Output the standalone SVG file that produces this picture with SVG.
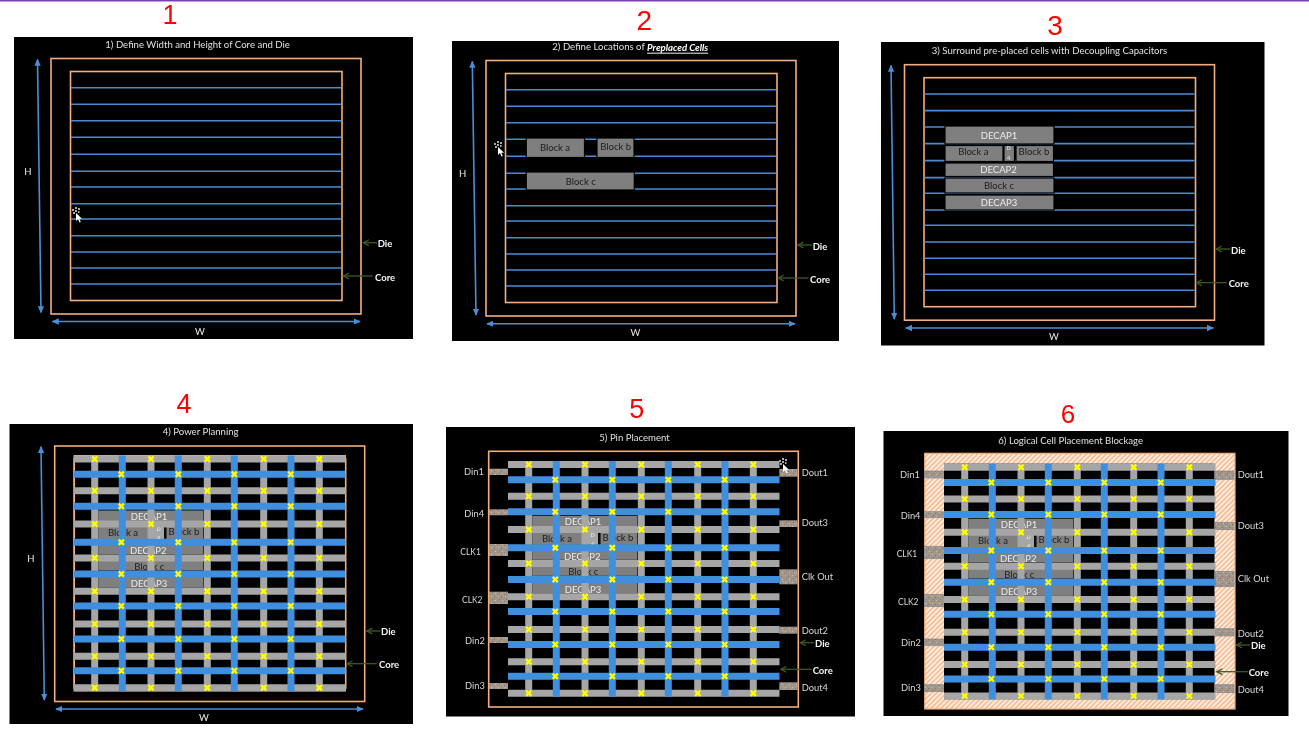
<svg xmlns="http://www.w3.org/2000/svg" width="1309" height="729" viewBox="0 0 1309 729">
<style>
text{font-family:Lato,"Liberation Sans",sans-serif;dominant-baseline:central}
.num{font-family:"Liberation Sans",sans-serif;fill:#ff0000;text-anchor:middle}
.ttl{font-size:9.6px;fill:#e0e0e0}
.lb{font-size:9.5px;fill:#e8e8e8}
.st{font-size:9.5px;fill:#f4f4f4;font-weight:700}
.dk{font-size:9.5px;fill:#1c1c1c;text-anchor:middle}
.lt{font-size:9.5px;fill:#ececec;text-anchor:middle}
.tiny{font-size:5.5px;fill:#ececec;text-anchor:middle}
.pin{font-size:9.3px;fill:#d8d8d8}
.bk{fill:#000}
.die{fill:none;stroke:#f2ae7c;stroke-width:1.6}
.blk{fill:#7f7f7f;stroke:#000;stroke-width:1.2}
.dim{stroke:#4a8fd8;stroke-width:1.6;fill:none;marker-start:url(#bl);marker-end:url(#bl)}
.ptr{stroke:#3c5a26;stroke-width:1.3;fill:none;marker-end:url(#gr)}
.tex{fill:url(#tex)}
.tx6{fill:url(#tex);stroke:#7d8896;stroke-width:.7}
</style>
<defs>
<filter id="soft" x="0" y="0" width="100%" height="100%"><feGaussianBlur stdDeviation="0.35"/></filter>
<marker id="bl" viewBox="0 0 8 8" refX="7" refY="4" markerWidth="4.500" markerHeight="4.500" orient="auto-start-reverse"><path d="M0 .5L8 4L0 7.5z" fill="#4a8fd8"/></marker>
<marker id="gr" viewBox="0 0 8 8" refX="7" refY="4" markerWidth="6" markerHeight="6" orient="auto"><path d="M7 1L1.500 4L7 7" transform="matrix(-1 0 0 1 8 0)" fill="none" stroke="#3c5a26" stroke-width="1.300"/></marker>
<pattern id="tex" width="7" height="7" patternUnits="userSpaceOnUse"><rect width="7" height="7" fill="#a2968a"/><rect x="1" y="1" width="1" height="1" fill="#c9bfb2"/><rect x="4" y="2" width="1" height="1" fill="#7d7268"/><rect x="2" y="4" width="1" height="1" fill="#7d7268"/><rect x="5" y="5" width="1" height="1" fill="#c9bfb2"/><rect x="0" y="6" width="1" height="1" fill="#8a7e73"/><rect x="6" y="0" width="1" height="1" fill="#b8ac9e"/></pattern>
<pattern id="hatch" width="3.5" height="3.500" patternUnits="userSpaceOnUse" patternTransform="rotate(-45)"><rect width="3.5" height="3.5" fill="#fdeee2"/><rect width="3.5" height="1.5" fill="#f5b78a"/></pattern>
<g id="cur"><path d="M0 -4h2v2h-2zM3 -3h2v2h-2zM-3 -2h2v2h-2zM0 -1h2v2h-2zM3 0h1.500v2h-1.500zM-2 1h2v2h-2z" fill="#aaa"/><path d="M1 2v8l2-2 1.500 3.500 1.300-.6-1.500-3.200h2.700z" fill="#fff"/></g>
<g id="fp"><rect class="die" x="51" y="58.500" width="310" height="255.500"/><rect class="die" x="70.500" y="71.500" width="271.500" height="229"/></g>
<path id="rows" stroke="#4a8ad2" stroke-width="1.600" fill="none" d="M71 87.700H341M71 104.300H341M71 120.700H341M71 137.300H341M71 154.300H341M71 171.300H341M71 187H341M71 203.700H341M71 219H341M71 235.700H341M71 252H341M71 268H341M71 284H341"/>
<g id="blocks" fill="#7f7f7f"><rect x="98.300" y="510.500" width="105" height="11"/><rect x="98.300" y="524" width="50" height="15.300"/><rect x="148" y="524" width="16" height="15.300" fill="#a6a6a6"/><rect x="166.500" y="524" width="36.500" height="15.300"/><rect x="98.300" y="542" width="105" height="12.300"/><rect x="98.300" y="558" width="105" height="12.300"/><rect x="98.300" y="574" width="105" height="13.700"/></g>
<g id="bars" fill="#111"><rect x="164.500" y="528" width="1.500" height="11"/><rect x="203" y="528" width="1" height="11"/><rect x="203" y="546" width="1" height="24.500"/></g>
<g id="xg"><use href="#x" x="94.700"/><use href="#x" x="151"/><use href="#x" x="207.300"/><use href="#x" x="263.700"/><use href="#x" x="319.300"/></g>
<g id="xb"><use href="#x" x="121.300"/><use href="#x" x="178.300"/><use href="#x" x="234.300"/><use href="#x" x="290.700"/></g>
<path id="x" d="M-2.600-2.600l5.200 5.200m0-5.200l-5.200 5.200" stroke="#ffff00" stroke-width="2.400" fill="none"/>
<g id="rails">
<path stroke="#a6a6a6" stroke-width="7" fill="none" d="M74 459H345.500M74 490.700H345.500M74 524H345.500M74 558H345.500M74 591.300H345.500M74 624H345.500M74 656.300H345.500M74 687.700H345.500M94.700 455.500V691.200M151 455.500V691.200M207.300 455.500V691.200M263.700 455.500V691.200M319.300 455.500V691.200"/>
<path stroke="#418fde" stroke-width="7" fill="none" d="M74 474.300H345.500M74 506.300H345.500M74 542.300H345.500M74 574H345.500M74 606H345.500M74 639H345.500M74 670.700H345.500M122.300 455.500V691.200M178.300 455.500V691.200M234.300 455.500V691.200M291 455.500V691.200"/>
<use href="#xg" y="459"/><use href="#xg" y="490.700"/><use href="#xg" y="524"/><use href="#xg" y="558"/><use href="#xg" y="591.300"/><use href="#xg" y="624"/><use href="#xg" y="656.300"/><use href="#xg" y="687.700"/>
<use href="#xb" y="474.300"/><use href="#xb" y="506.300"/><use href="#xb" y="542.300"/><use href="#xb" y="574"/><use href="#xb" y="606"/><use href="#xb" y="639"/><use href="#xb" y="670.700"/>
</g>
</defs>
<rect width="1309" height="729" fill="#fff"/>
<rect width="1309" height="1.500" fill="#7b3fb5"/>
<g filter="url(#soft)">
<g id="panel-1">
<text class="num" x="170" y="15" font-size="27">1</text>
<rect class="bk" x="14" y="37" width="399" height="302"/>
<text class="ttl" x="105.300" y="44.500">1) Define Width and Height of Core and Die</text>
<use href="#fp"/><use href="#rows"/>
<use href="#cur" x="75" y="211"/>
<text class="lb" x="28" y="171" text-anchor="middle">H</text>
<text class="lb" x="200" y="331" text-anchor="middle">W</text>
<text class="st" x="377.700" y="243.700">Die</text>
<text class="st" x="375" y="277.300">Core</text>
</g>

<g id="panel-2">
<text class="num" x="644.300" y="20" font-size="28">2</text>
<rect class="bk" x="452" y="41" width="387" height="300"/>
<text class="ttl" x="552.300" y="46.700">2) Define Locations of <tspan font-weight="700" font-style="italic" text-decoration="underline" fill="#fff">Preplaced Cells</tspan></text>
<use href="#fp" x="435" y="2"/><use href="#rows" x="435" y="2"/>
<rect class="blk" x="526.300" y="138" width="58.200" height="19.500"/>
<rect class="blk" x="597" y="138" width="37" height="19.500"/>
<rect class="blk" x="526.300" y="172" width="108" height="18"/>
<text class="dk" x="555" y="147.700">Block a</text>
<text class="dk" x="615.700" y="146.700">Block b</text>
<text class="dk" x="580.700" y="181">Block c</text>
<use href="#cur" x="497" y="145"/>
<text class="lb" x="462.700" y="173" text-anchor="middle">H</text>
<text class="lb" x="635.300" y="332.500" text-anchor="middle">W</text>
<text class="st" x="812.700" y="246">Die</text>
<text class="st" x="810" y="279.700">Core</text>
</g>

<g id="panel-3">
<text class="num" x="1055" y="25" font-size="28">3</text>
<rect class="bk" x="881" y="42" width="383.500" height="303.500"/>
<text class="ttl" x="931.700" y="50.700">3) Surround pre-placed cells with Decoupling Capacitors</text>
<use href="#fp" x="853.500" y="6.200"/><use href="#rows" x="853.500" y="6.300"/>
<rect class="blk" x="945" y="126" width="109" height="18"/>
<rect class="blk" x="945" y="145.500" width="58" height="16"/>
<rect class="blk" x="1004" y="145.500" width="10.500" height="16"/>
<rect class="blk" x="1016" y="145.500" width="37.500" height="16"/>
<rect class="blk" x="945" y="163" width="108.500" height="13.500"/>
<rect class="blk" x="945" y="178" width="109" height="15"/>
<rect class="blk" x="945" y="195" width="109" height="15"/>
<text class="lt" x="999" y="135">DECAP1</text>
<text class="dk" x="973.300" y="151.700">Block a</text>
<text class="tiny" x="1008.700" y="148">D</text>
<text class="tiny" x="1008.700" y="158">4</text>
<text class="dk" x="1034" y="151">Block b</text>
<text class="lt" x="998.500" y="169.700">DECAP2</text>
<text class="dk" x="999" y="185">Block c</text>
<text class="lt" x="999" y="202.500">DECAP3</text>
<text class="lb" x="1054" y="336.700" text-anchor="middle">W</text>
<text class="st" x="1231" y="250">Die</text>
<text class="st" x="1228.700" y="283.700">Core</text>
</g>

<g id="panel-4">
<text class="num" x="184" y="404" font-size="27">4</text>
<rect class="bk" x="9.500" y="424" width="403.500" height="300"/>
<text class="ttl" x="162.700" y="431.700">4) Power Planning</text>
<use href="#fp" x="3.700" y="387.500"/>
<rect x="74" y="455.500" width="271.500" height="235.500" fill="none" stroke="#f2ae7c" stroke-width="1"/>
<use href="#blocks"/><use href="#bars"/>
<text class="lt" x="149" y="516">DECAP1</text>
<text class="dk" x="123" y="532.700">Block a</text>
<text class="tiny" x="158.700" y="529">D</text>
<text class="tiny" x="158.700" y="538">4</text>
<text class="dk" x="184" y="531.700">Block b</text>
<text class="lt" x="148.300" y="550.700">DECAP2</text>
<text class="dk" x="149.300" y="566.300">Block c</text>
<text class="lt" x="149" y="583.700">DECAP3</text>
<use href="#rails"/>
<text class="lb" x="31" y="558" text-anchor="middle">H</text>
<text class="lb" x="204" y="717.700" text-anchor="middle">W</text>
<text class="st" x="381" y="631">Die</text>
<text class="st" x="379" y="664.700">Core</text>
</g>

<g id="panel-5">
<text class="num" x="636.700" y="408.700" font-size="27">5</text>
<rect class="bk" x="446" y="427" width="409" height="289.500"/>
<text class="ttl" x="599.300" y="437.300">5) Pin Placement</text>
<rect class="die" x="488.700" y="451.300" width="309.600" height="255.700"/>
<g class="tex">
<rect x="489" y="468.700" width="19" height="6.300"/><rect x="489" y="509.300" width="19" height="6"/><rect x="489" y="544" width="19" height="12"/><rect x="489" y="591.700" width="19" height="12.300"/><rect x="489" y="637" width="19" height="6"/><rect x="489" y="683" width="19" height="6"/>
<rect x="779.300" y="469" width="18.400" height="7.700"/><rect x="779.300" y="520.300" width="18.400" height="6.700"/><rect x="779.300" y="569.300" width="18.400" height="15"/><rect x="779.300" y="626.700" width="18.400" height="7"/><rect x="779.300" y="682.300" width="18.400" height="7.700"/>
</g>
<g transform="translate(434 5.500)">
<use href="#blocks"/><use href="#bars"/>
<text class="lt" x="149" y="516">DECAP1</text>
<text class="dk" x="123" y="532.700">Block a</text>
<text class="tiny" x="158.700" y="529">D</text>
<text class="tiny" x="158.700" y="538">4</text>
<text class="dk" x="184" y="531.700">Block b</text>
<text class="lt" x="148.300" y="550.700">DECAP2</text>
<text class="dk" x="149.300" y="566.300">Block c</text>
<text class="lt" x="149" y="583.700">DECAP3</text>
<use href="#rails"/>
</g>
<use href="#cur" x="782" y="462"/>
<text class="pin" x="464" y="471.700">Din1</text>
<text class="pin" x="464.300" y="513.300">Din4</text>
<text class="pin" x="460.300" y="551" textLength="20.500" lengthAdjust="spacingAndGlyphs">CLK1</text>
<text class="pin" x="462" y="599.300" textLength="20.500" lengthAdjust="spacingAndGlyphs">CLK2</text>
<text class="pin" x="465" y="640.300">Din2</text>
<text class="pin" x="465" y="685.300">Din3</text>
<text class="pin" x="801.700" y="472.300">Dout1</text>
<text class="pin" x="801.700" y="522.700">Dout3</text>
<text class="pin" x="801.700" y="576.300">Clk Out</text>
<text class="pin" x="801.700" y="630.700">Dout2</text>
<text class="pin" x="801.700" y="687">Dout4</text>
<text class="st" x="815" y="643.300">Die</text>
<text class="st" x="812.700" y="670.300">Core</text>
</g>

<g id="panel-6">
<text class="num" x="1068" y="414" font-size="26">6</text>
<rect class="bk" x="883.500" y="431" width="405" height="285"/>
<text class="ttl" x="998.300" y="440">6) Logical Cell Placement Blockage</text>
<rect x="924.700" y="453.300" width="310.300" height="255.700" fill="url(#hatch)" stroke="#f2ae7c" stroke-width="1.200"/>
<rect class="bk" x="944" y="463.700" width="270.500" height="235.500"/>
<g class="tx6">
<rect x="924.500" y="471" width="19" height="7"/><rect x="924.500" y="511.700" width="19" height="6"/><rect x="924.500" y="546.300" width="19" height="12.400"/><rect x="924.500" y="594.300" width="19" height="12.400"/><rect x="924.500" y="639" width="19" height="6.700"/><rect x="924.500" y="684.700" width="19" height="7"/>
<rect x="1215" y="471" width="19" height="8.300"/><rect x="1215" y="522.300" width="19" height="7.400"/><rect x="1215" y="571.300" width="19" height="15.400"/><rect x="1215" y="628.700" width="19" height="7.300"/><rect x="1215" y="684.700" width="19" height="8"/>
</g>
<g transform="translate(870 8.200)">
<use href="#blocks"/><use href="#bars"/>
<text class="lt" x="149" y="516">DECAP1</text>
<text class="dk" x="123" y="532.700">Block a</text>
<text class="tiny" x="158.700" y="529">D</text>
<text class="tiny" x="158.700" y="538">4</text>
<text class="dk" x="184" y="531.700">Block b</text>
<text class="lt" x="148.300" y="550.700">DECAP2</text>
<text class="dk" x="149.300" y="566.300">Block c</text>
<text class="lt" x="149" y="583.700">DECAP3</text>
<use href="#rails"/>
</g>
<text class="pin" x="900" y="474">Din1</text>
<text class="pin" x="900.700" y="515.700">Din4</text>
<text class="pin" x="896.700" y="553.700" textLength="20.500" lengthAdjust="spacingAndGlyphs">CLK1</text>
<text class="pin" x="898" y="601.700" textLength="20.500" lengthAdjust="spacingAndGlyphs">CLK2</text>
<text class="pin" x="901" y="642.700">Din2</text>
<text class="pin" x="901" y="687.700">Din3</text>
<text class="pin" x="1237.700" y="474.700">Dout1</text>
<text class="pin" x="1237.700" y="525">Dout3</text>
<text class="pin" x="1237.700" y="578.700">Clk Out</text>
<text class="pin" x="1237.700" y="633">Dout2</text>
<text class="pin" x="1237.700" y="689.300">Dout4</text>
<text class="st" x="1251" y="645.700">Die</text>
<text class="st" x="1248.700" y="672.700">Core</text>
</g>

<g id="connectors">
<path class="dim" d="M37.500 59.500L41 312.500"/>
<path class="dim" d="M52.500 321.500H360"/>
<path class="ptr" d="M377 242.700H363"/>
<path class="ptr" d="M372.500 276H343"/>
<path class="dim" d="M472.300 61.500L476 315"/>
<path class="dim" d="M487 323.700H795"/>
<path class="ptr" d="M812 245H797.500"/>
<path class="ptr" d="M808.300 278H777.700"/>
<path class="dim" d="M891 65.500L894.300 319"/>
<path class="dim" d="M905.700 328H1213.300"/>
<path class="ptr" d="M1230.500 249H1215.700"/>
<path class="ptr" d="M1226.700 282.700H1196"/>
<path class="dim" d="M41 446.700L44.300 700"/>
<path class="dim" d="M56 709H363"/>
<path class="ptr" d="M380.500 631H366.500"/>
<path class="ptr" d="M376.700 663.700H346.700"/>
<path class="ptr" d="M814 642.700H800"/>
<path class="ptr" d="M811.700 669.300H780.500"/>
<path class="ptr" d="M1250 645H1236"/>
<path class="ptr" d="M1248 671.700H1216.500"/>
</g>
</g>
</svg>
